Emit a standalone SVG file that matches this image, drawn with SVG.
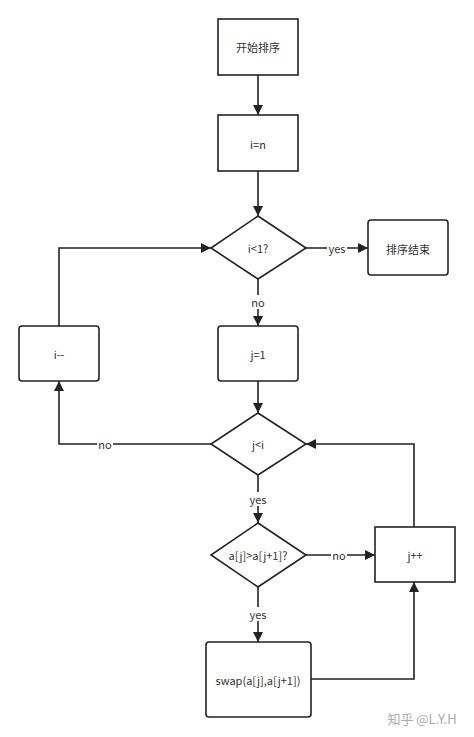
<svg xmlns="http://www.w3.org/2000/svg" width="474" height="737" viewBox="0 0 474 737">
<defs>
<marker id="ah" viewBox="0 0 10 10" refX="10" refY="5" markerWidth="10" markerHeight="10" markerUnits="userSpaceOnUse" orient="auto">
<path d="M0,0 L10,5 L0,10 z" fill="#222"/>
</marker>
<style>
.box{fill:#fff;stroke:#222;stroke-width:1.6}
.t{font-family:"Microsoft YaHei","Noto Sans CJK SC","Noto Sans",sans-serif;font-size:11px;fill:#333;text-anchor:middle;dominant-baseline:central}
.ln{fill:none;stroke:#222;stroke-width:1.6}
.lb{fill:#fff}
.wm{font-family:"Noto Sans CJK SC","Noto Sans",sans-serif;font-size:13px;fill:#aaa;text-anchor:middle;dominant-baseline:central}
</style>
</defs>
<rect width="474" height="737" fill="#fff"/>
<g id="connectors">
<path class="ln" d="M258,75 V115" marker-end="url(#ah)"/>
<path class="ln" d="M258,171 V216" marker-end="url(#ah)"/>
<path class="ln" d="M306,248 H368" marker-end="url(#ah)"/>
<path class="ln" d="M258,279 V326" marker-end="url(#ah)"/>
<path class="ln" d="M258,381 V413" marker-end="url(#ah)"/>
<path class="ln" d="M211,444 H59 V381" marker-end="url(#ah)"/>
<path class="ln" d="M59,326 V248 H211" marker-end="url(#ah)"/>
<path class="ln" d="M258,475 V523" marker-end="url(#ah)"/>
<path class="ln" d="M306,555 H375" marker-end="url(#ah)"/>
<path class="ln" d="M414,527 V444 H306" marker-end="url(#ah)"/>
<path class="ln" d="M258,587 V642" marker-end="url(#ah)"/>
<path class="ln" d="M311,679 H414 V582" marker-end="url(#ah)"/>
<rect class="lb" x="327" y="241" width="20" height="14"/>
<text class="t" x="337" y="248">yes</text>
<rect class="lb" x="250" y="295" width="16" height="14"/>
<text class="t" x="258" y="302">no</text>
<rect class="lb" x="97" y="437" width="16" height="14"/>
<text class="t" x="105" y="444">no</text>
<rect class="lb" x="248" y="492" width="20" height="14"/>
<text class="t" x="258" y="499">yes</text>
<rect class="lb" x="331" y="548" width="16" height="14"/>
<text class="t" x="339" y="555">no</text>
<rect class="lb" x="248" y="607" width="20" height="14"/>
<text class="t" x="258" y="614">yes</text>
</g>
<g id="start">
<rect class="box" x="218" y="19" width="80" height="56"/>
<text class="t" x="258" y="47">开始排序</text>
</g>
<g id="init-i">
<rect class="box" x="218" y="115" width="80" height="56"/>
<text class="t" x="258" y="144">i=n</text>
</g>
<g id="cond-i">
<polygon class="box" points="258,216 306,248 258,279 211,248"/>
<text class="t" x="258" y="248">i&lt;1?</text>
</g>
<g id="end">
<rect class="box" x="368" y="220" width="80" height="55" rx="3"/>
<text class="t" x="408" y="249">排序结束</text>
</g>
<g id="dec-i">
<rect class="box" x="19" y="326" width="80" height="55" rx="3"/>
<text class="t" x="59" y="354">i--</text>
</g>
<g id="init-j">
<rect class="box" x="218" y="326" width="80" height="55" rx="3"/>
<text class="t" x="258" y="354">j=1</text>
</g>
<g id="cond-j">
<polygon class="box" points="258,413 306,444 258,475 211,444"/>
<text class="t" x="258" y="444">j&lt;i</text>
</g>
<g id="compare">
<polygon class="box" points="258,523 306,555 258,587 211,555"/>
<text class="t" x="258" y="555">a[j]&gt;a[j+1]?</text>
</g>
<g id="inc-j">
<rect class="box" x="375" y="527" width="80" height="55"/>
<text class="t" x="415" y="555">j++</text>
</g>
<g id="swap">
<rect class="box" x="206" y="642" width="105" height="75" rx="3"/>
<text class="t" x="258" y="680">swap(a[j],a[j+1])</text>
</g>
<text class="wm" x="422" y="718">知乎 @L.Y.H</text>
</svg>
